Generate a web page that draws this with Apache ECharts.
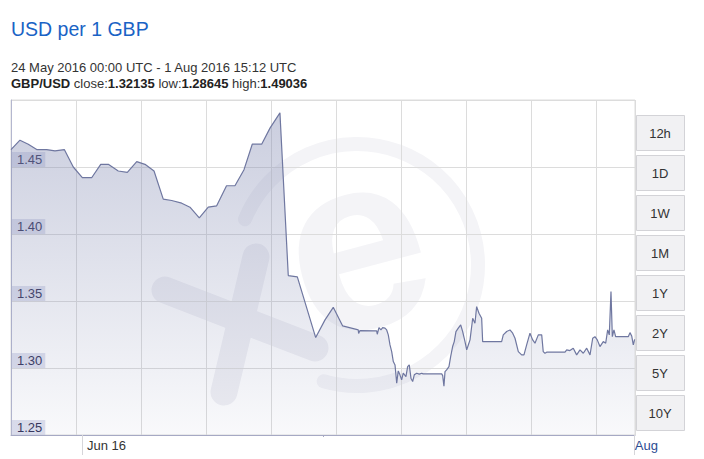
<!DOCTYPE html>
<html>
<head>
<meta charset="utf-8">
<title>USD per 1 GBP</title>
<script src="https://cdn.jsdelivr.net/npm/echarts@6/dist/echarts.min.js"></script>
<style>
  html, body { margin: 0; padding: 0; background: #fff; }
  #main { width: 704px; height: 459px; }
</style>
</head>
<body>
<div id="main"></div>
<script>
// time in days since 24 May 2016 00:00 UTC, rate = USD per 1 GBP
const days = [
  0, 1.00, 1.93, 2.87, 3.98, 4.91, 5.95, 6.95, 7.96, 9.00,
  10.01, 10.86, 11.97, 12.98, 14.03, 14.95, 15.96, 16.99, 17.93, 19.05,
  19.97, 21.01, 22.01, 22.95, 24.05, 24.99, 26.00, 26.92, 27.97, 28.90,
  30.01, 30.94, 31.95, 34.00, 35.04, 35.96, 37.01,
  38.75, 38.79, 38.94, 40.80, 40.87, 41.06, 41.28, 41.47, 41.73, 41.92,
  42.10, 42.29, 42.48, 42.66, 42.85, 43.04, 43.21, 43.40, 43.59, 43.77,
  44.07, 44.26, 44.44, 44.63, 44.82, 45.00, 45.27, 45.56, 45.83, 46.00,
  48.06, 48.17, 48.31, 48.43, 48.61, 48.87, 49.06, 49.28, 49.46, 49.65,
  49.91, 50.18, 50.40, 50.66, 50.85, 51.03, 51.22, 51.52, 51.77, 51.96,
  52.22, 52.52, 52.63, 54.75, 54.93, 55.31, 55.68, 55.98, 56.24, 56.61,
  56.98, 57.24, 57.54, 57.91, 58.21, 58.47, 58.84, 59.22, 59.39, 59.58,
  59.77, 61.82, 62.01, 62.37, 62.74, 63.12, 63.49, 63.86, 64.24, 64.61,
  64.91, 65.16, 65.42, 65.72, 66.09, 66.36, 66.58, 66.76, 66.95, 67.10,
  67.28, 67.47, 68.88, 69.07, 69.26, 69.44, 69.59
];
const rates = [
  1.463, 1.470, 1.467, 1.463, 1.463, 1.462, 1.463, 1.450, 1.442, 1.442,
  1.452, 1.452, 1.447, 1.446, 1.454, 1.452, 1.447, 1.426, 1.425, 1.423,
  1.420, 1.412, 1.420, 1.421, 1.436, 1.436, 1.448, 1.467, 1.467, 1.479,
  1.4904, 1.369, 1.368, 1.3227, 1.3359, 1.3453, 1.3314,
  1.3284, 1.3258, 1.3279, 1.3277, 1.3252, 1.3301, 1.3284, 1.3301, 1.3297, 1.3284,
  1.3247, 1.3172, 1.3122, 1.3048, 1.3023, 1.2887, 1.2978, 1.2949, 1.2911, 1.2961,
  1.2936, 1.3010, 1.3023, 1.2924, 1.2899, 1.2949, 1.2961, 1.2954, 1.2961, 1.2956,
  1.2956, 1.2943, 1.2865, 1.2973, 1.2986, 1.3010, 1.3085, 1.3160, 1.3197, 1.3272,
  1.3297, 1.3322, 1.3272, 1.3197, 1.3135, 1.3172, 1.3210, 1.3371, 1.3334, 1.3458,
  1.3409, 1.3371, 1.3197, 1.3197, 1.3247, 1.3272, 1.3284, 1.3260, 1.3222, 1.3122,
  1.3098, 1.3098, 1.3172, 1.3260, 1.3210, 1.3185, 1.3247, 1.3247, 1.3122, 1.3110,
  1.3118, 1.3118, 1.3135, 1.3130, 1.3148, 1.3098, 1.3135, 1.3110, 1.3148, 1.3098,
  1.3222, 1.3234, 1.3210, 1.3160, 1.3197, 1.3185, 1.3284, 1.3247, 1.3570, 1.3234,
  1.3284, 1.3234, 1.3234, 1.3264, 1.3239, 1.3172, 1.3214
];

// x axis labels as they sit in the original
const xLabelDays = [7.92, 69.5];
const xLabels = ['Jun 16', 'Aug'];
const xMinorTickDays = [34.81];

const ranges = ['12h', '1D', '1W', '1M', '1Y', '2Y', '5Y', '10Y'];

const FONT = '"Liberation Sans", Arial, sans-serif';
const X_MAX = 69.63;

const chart = echarts.init(document.getElementById('main'), null, { renderer: 'svg' });

// range buttons on the right
const buttons = [];
ranges.forEach((r, i) => {
  buttons.push({
    type: 'rect',
    shape: { x: 636.5, y: 115.5 + i * 40, width: 48, height: 35 },
    style: { fill: '#f1f1f3', stroke: '#d3d3d7', lineWidth: 1 },
    z: 10
  });
  buttons.push({
    type: 'text',
    x: 660, y: 133 + i * 40,
    style: { text: r, fontSize: 13, fontFamily: FONT, fill: '#333', align: 'center', verticalAlign: 'middle' },
    z: 11
  });
});

// faint "xe" watermark behind the plot
const wm = '#f4f4f7';
const wmX = '#f0f0f4';
const watermark = [
  {
    type: 'arc',
    shape: { cx: 357, cy: 265, r: 121, startAngle: 3.53, endAngle: 1.85, clockwise: true },
    style: { stroke: wm, lineWidth: 14, fill: 'transparent', lineCap: 'round' },
    z: -1
  },
  {
    type: 'text',
    x: 355, y: 242, rotation: 0.26,
    style: { text: 'e', fontSize: 250, fontWeight: 'bold', fontFamily: FONT, fill: wm, align: 'center', verticalAlign: 'middle' },
    z: -1
  },
  {
    type: 'line',
    shape: { x1: 165, y1: 290, x2: 315, y2: 348 },
    style: { stroke: wmX, lineWidth: 27, lineCap: 'round' },
    z: -1
  },
  {
    type: 'line',
    shape: { x1: 256, y1: 257, x2: 224, y2: 392 },
    style: { stroke: wmX, lineWidth: 27, lineCap: 'round' },
    z: -1
  }
];

const option = {
  animation: false,
  backgroundColor: '#fff',
  textStyle: { fontFamily: FONT },
  title: [
    {
      text: 'USD per 1 GBP', left: 11, top: 19, padding: 0,
      textStyle: { fontSize: 19.5, fontWeight: 'normal', color: '#1a63c5', fontFamily: FONT }
    },
    {
      text: '24 May 2016 00:00 UTC - 1 Aug 2016 15:12 UTC', left: 11, top: 61, padding: 0,
      textStyle: { fontSize: 13, fontWeight: 'normal', color: '#333', fontFamily: FONT }
    },
    {
      text: '{b|GBP/USD} close:{b|1.32135} low:{b|1.28645} high:{b|1.49036}', left: 11, top: 77, padding: 0,
      textStyle: {
        fontSize: 13, fontWeight: 'normal', color: '#333', fontFamily: FONT,
        rich: { b: { fontSize: 13, fontWeight: 'bold', color: '#222', fontFamily: FONT } }
      }
    }
  ],
  grid: {
    left: 11, top: 100, right: 69, bottom: 24,
    show: true, borderColor: '#dcdcdc', borderWidth: 1
  },
  xAxis: [
    {
      type: 'value', min: 0, max: X_MAX, interval: 7.256,
      axisLine: { show: true, onZero: false, lineStyle: { color: '#a6a9c4' } },
      axisTick: { show: false },
      axisLabel: { show: false },
      splitLine: { show: true, lineStyle: { color: '#dcdcdc' } }
    },
    {
      type: 'value', min: 0, max: X_MAX, position: 'bottom',
      axisLine: { show: false },
      splitLine: { show: false },
      axisTick: { show: true, customValues: xLabelDays, length: 20, lineStyle: { color: '#d6d6da' } },
      axisLabel: {
        show: true, customValues: xLabelDays, margin: 4, align: 'left',
        formatter: v => {
          const i = xLabelDays.indexOf(v);
          return i === 0 ? '{a|' + xLabels[0] + '}' : '{b|' + xLabels[1] + '}';
        },
        rich: {
          a: { fontSize: 13, color: '#333', padding: [0, 0, 0, 5], fontFamily: FONT },
          b: { fontSize: 13, color: '#2b4c92', padding: [0, 0, 0, 1], fontFamily: FONT }
        }
      }
    },
    {
      type: 'value', min: 0, max: X_MAX, position: 'bottom',
      axisLine: { show: false },
      splitLine: { show: false },
      axisTick: { show: true, customValues: xMinorTickDays, length: 2, lineStyle: { color: '#a6a9c4' } },
      axisLabel: { show: false }
    }
  ],
  yAxis: {
    type: 'value', min: 1.25, max: 1.50, interval: 0.05,
    axisLine: { show: true, lineStyle: { color: '#b4b7cf' } },
    axisTick: { show: false },
    splitLine: { show: true, lineStyle: { color: '#dcdcdc' } },
    axisLabel: {
      inside: true, margin: 1, showMaxLabel: false,
      verticalAlign: 'bottom',
      fontSize: 13, color: '#33335a', lineHeight: 13,
      backgroundColor: 'rgba(200,204,226,0.6)',
      padding: [1, 3, 1, 5],
      formatter: v => v.toFixed(2)
    }
  },
  graphic: watermark.concat(buttons),
  series: [
    {
      type: 'line',
      data: days.map((d, i) => [d, rates[i]]),
      showSymbol: false,
      smooth: false,
      lineStyle: { color: '#6f77a0', width: 1.2 },
      areaStyle: {
        color: new echarts.graphic.LinearGradient(0, 100, 0, 435, [
          { offset: 0, color: 'rgba(130,138,178,0.62)' },
          { offset: 1, color: 'rgba(130,138,178,0.07)' }
        ], true)
      },
      z: 3
    }
  ]
};

chart.setOption(option);
</script>
</body>
</html>
